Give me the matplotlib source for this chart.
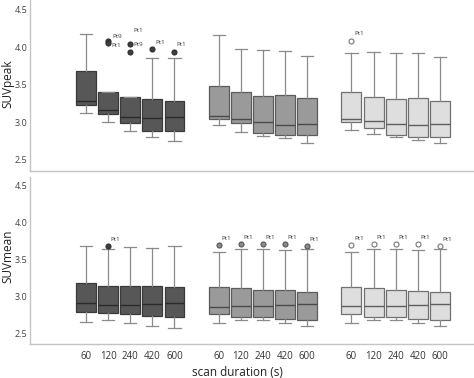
import matplotlib
matplotlib.use('Agg')
import matplotlib.pyplot as plt


#~~~~~~~~~~~~~~~~~~~~~~~~~~~~~~~~DATA~~~~~~~~~~~~~~~~~~~~~~~~~~~~~~~~
durations = ['60', '120', '240', '420', '600']

# SUVpeak, one list per reconstruction group (5 scan durations each)
peak_whishi = [[4.18, 3.41, 3.34, 3.86, 3.86],
               [4.16, 3.98, 3.97, 3.95, 3.88],
               [3.93, 3.94, 3.93, 3.92, 3.87]]
peak_q3 = [[3.69, 3.41, 3.34, 3.31, 3.29],
           [3.48, 3.40, 3.35, 3.37, 3.32],
           [3.41, 3.34, 3.31, 3.33, 3.29]]
peak_med = [[3.29, 3.16, 3.07, 3.06, 3.07],
            [3.09, 3.04, 3.00, 2.97, 2.98],
            [3.05, 3.02, 2.98, 2.96, 2.98]]
peak_q1 = [[3.23, 3.11, 2.99, 2.89, 2.88],
           [3.04, 2.99, 2.86, 2.83, 2.83],
           [3.00, 2.93, 2.83, 2.80, 2.80]]
peak_whislo = [[3.12, 3.01, 2.88, 2.80, 2.75],
               [2.96, 2.87, 2.82, 2.79, 2.73],
               [2.90, 2.84, 2.80, 2.77, 2.72]]
# outliers: (group, box, value, label)
peak_outliers = [(0, 1, 4.09, 'Pt9'), (0, 1, 4.06, 'Pt1'),
                 (0, 2, 4.04, 'Pt9'), (0, 2, 3.94, 'Pt1'),
                 (0, 3, 3.98, 'Pt1'), (0, 4, 3.94, 'Pt1'),
                 (2, 0, 4.08, 'Pt1')]

# SUVmean
mean_whishi = [[3.68, 3.64, 3.67, 3.66, 3.68],
               [3.60, 3.64, 3.64, 3.63, 3.64],
               [3.61, 3.64, 3.64, 3.63, 3.64]]
mean_q3 = [[3.19, 3.14, 3.14, 3.14, 3.13],
           [3.13, 3.12, 3.09, 3.09, 3.06],
           [3.13, 3.12, 3.09, 3.08, 3.06]]
mean_med = [[2.91, 2.89, 2.89, 2.90, 2.92],
            [2.86, 2.88, 2.88, 2.89, 2.90],
            [2.87, 2.88, 2.88, 2.89, 2.90]]
mean_q1 = [[2.79, 2.78, 2.76, 2.74, 2.73],
           [2.76, 2.73, 2.73, 2.70, 2.68],
           [2.76, 2.73, 2.73, 2.70, 2.68]]
mean_whislo = [[2.66, 2.69, 2.64, 2.61, 2.58],
               [2.64, 2.68, 2.68, 2.64, 2.61],
               [2.64, 2.68, 2.68, 2.64, 2.61]]
mean_outliers = [(0, 1, 3.69, 'Pt1'),
                 (1, 0, 3.70, 'Pt1'), (1, 1, 3.71, 'Pt1'), (1, 2, 3.71, 'Pt1'),
                 (1, 3, 3.71, 'Pt1'), (1, 4, 3.69, 'Pt1'),
                 (2, 0, 3.70, 'Pt1'), (2, 1, 3.72, 'Pt1'), (2, 2, 3.71, 'Pt1'),
                 (2, 3, 3.71, 'Pt1'), (2, 4, 3.69, 'Pt1')]


#~~~~~~~~~~~~~~~~~~~~~~~~~~~~~~~~STYLE~~~~~~~~~~~~~~~~~~~~~~~~~~~~~~~~
fills = ['#575757', '#9a9a9a', '#dedede']
edges = ['#3a3a3a', '#5c5c5c', '#707070']
medians = ['#2a2a2a', '#4a4a4a', '#5e5e5e']
flier_face = ['#3e3e3e', '#8a8a8a', 'white']
flier_edge = ['#2e2e2e', '#555555', '#777777']
whisker_col = '#8a8a8a'
spine_col = '#c4c4c4'

# label offsets in pixels (dx, dy up) for the top panel outliers
peak_label_off = [(4, 4), (3, -3), (3, 0), (3, 21), (3, 6), (2, 7), (3, 7.5)]
mean_label_off = (2.5, 6.5)

plt.rcParams['font.family'] = ['Open Sans', 'DejaVu Sans']

W, H = 474, 378
fig = plt.figure(figsize=(W / 100, H / 100), dpi=100)
ax_top = fig.add_axes([30 / W, 1 - 171 / H, 1 - 30 / W, 171 / H])
ax_bot = fig.add_axes([30 / W, 1 - 344 / H, 1 - 30 / W, (344 - 177) / H])


def pos(g, i):
    return g * 6 + i


#~~~~~~~~~~~~~~~~~~~~~~~~~~~~~~PLOTTING~~~~~~~~~~~~~~~~~~~~~~~~~~~~~~
def draw_panel(ax, whislo, q1, med, q3, whishi, outliers, offsets):
    for g in range(3):
        stats = []
        for i in range(5):
            stats.append(dict(whislo=whislo[g][i], q1=q1[g][i], med=med[g][i],
                              q3=q3[g][i], whishi=whishi[g][i], fliers=[]))
        ax.bxp(stats, positions=[pos(g, i) for i in range(5)], widths=0.9,
               capwidths=0.55, patch_artist=True, showfliers=False,
               boxprops=dict(facecolor=fills[g], edgecolor=edges[g], linewidth=0.9),
               medianprops=dict(color=medians[g], linewidth=1.0),
               whiskerprops=dict(color=whisker_col, linewidth=0.9),
               capprops=dict(color=whisker_col, linewidth=0.9),
               manage_ticks=False)

    for k, (g, i, v, lab) in enumerate(outliers):
        ax.plot(pos(g, i), v, 'o', ms=3.6, mfc=flier_face[g], mec=flier_edge[g],
                mew=0.8, zorder=4)
        dx, dy = offsets[k] if isinstance(offsets, list) else offsets
        ax.annotate(lab, (pos(g, i), v), xytext=(dx * 0.72, dy * 0.72),
                    textcoords='offset points', ha='left', va='center',
                    fontsize=4.5, color='#333333')

    ax.set_xlim(-2.53, 17.54)
    ax.set_yticks([2.5, 3.0, 3.5, 4.0, 4.5])
    ax.set_yticklabels(['2.5', '3.0', '3.5', '4.0', '4.5'])
    ax.tick_params(axis='y', length=0, pad=2, labelsize=6.5, labelcolor='#444444')
    for side in ['top', 'right']:
        ax.spines[side].set_visible(False)
    for side in ['left', 'bottom']:
        ax.spines[side].set_color(spine_col)
        ax.spines[side].set_linewidth(1.0)


draw_panel(ax_top, peak_whislo, peak_q1, peak_med, peak_q3, peak_whishi,
           peak_outliers, peak_label_off)
draw_panel(ax_bot, mean_whislo, mean_q1, mean_med, mean_q3, mean_whishi,
           mean_outliers, mean_label_off)

ax_top.set_ylim(2.35, 4.63)
ax_bot.set_ylim(2.36, 4.62)

ax_top.set_xticks([])
ax_bot.set_xticks([pos(g, i) for g in range(3) for i in range(5)])
ax_bot.set_xticklabels(durations * 3)
ax_bot.tick_params(axis='x', length=0, pad=5, labelsize=7, labelcolor='#333333')

# y labels hug the left edge of the figure
fig.text(7.5 / W, 1 - 84 / H, 'SUVpeak', rotation=90, ha='center', va='center',
         fontsize=8.5, color='#222222')
fig.text(7.5 / W, 1 - 256 / H, 'SUVmean', rotation=90, ha='center', va='center',
         fontsize=8.5, color='#222222')
fig.text(0.5, 1 - 372 / H, 'scan duration (s)', ha='center', va='center',
         fontsize=8.5, color='#222222')

fig.savefig('out.png', dpi=100)
